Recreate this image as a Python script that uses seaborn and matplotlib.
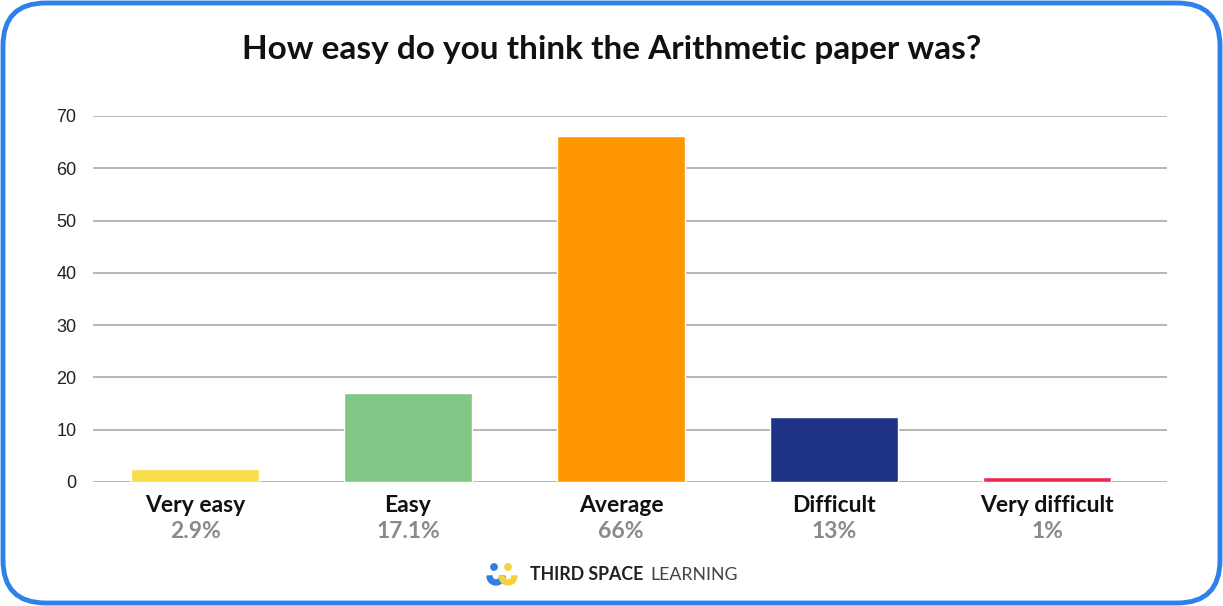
import matplotlib
matplotlib.use("Agg")
import matplotlib.pyplot as plt
import seaborn as sns
import pandas as pd
from matplotlib.patches import FancyBboxPatch, Circle, Wedge

# data
categories = ['Very easy', 'Easy', 'Average', 'Difficult', 'Very difficult']
values = [2.5, 17.0, 66.1, 12.4, 1.0]
pct_labels = ['2.9%', '17.1%', '66%', '13%', '1%']
colors = ['#F9DC4C', '#82C785', '#FF9800', '#1E3288', '#F0294B']
yticks = [0, 10, 20, 30, 40, 50, 60, 70]

df = pd.DataFrame({'cat': categories, 'val': values})

sns.set_style('white')
plt.rcParams['font.family'] = ['Lato', 'DejaVu Sans']

fig = plt.figure(figsize=(12.23, 6.06), dpi=100)
ax = fig.add_axes([93/1223, 1-482/606, 1074/1223, 366/606])

sns.barplot(data=df, x='cat', y='val', hue='cat', palette=colors,
            width=0.6, legend=False, ax=ax, saturation=1)

ax.set_ylim(0, 70)
ax.set_xlim(-0.479, 4.563)
ax.set_yticks(yticks)
ax.set_yticklabels([str(t) for t in yticks], fontsize=13, color='#222222',
                   family='Liberation Sans')
ax.grid(axis='y', color='#AAAAAA', linewidth=1.2)
ax.set_axisbelow(True)
for s in ax.spines.values():
    s.set_visible(False)
ax.tick_params(axis='y', length=0, pad=12)
ax.tick_params(axis='x', length=0)
ax.set_xticklabels([])
ax.set_xlabel('')
ax.set_ylabel('')

# category labels with percentages
for i, (c, p) in enumerate(zip(categories, pct_labels)):
    ax.text(i, -2.4, c, ha='center', va='top', fontsize=16.5, fontweight='bold',
            color='#111111', clip_on=False)
    ax.text(i, -7.4, p, ha='center', va='top', fontsize=16.5, fontweight='bold',
            color='#8A8A8A', clip_on=False)

fig.text(0.5, 1-50/606, 'How easy do you think the Arithmetic paper was?',
         ha='center', va='center', fontsize=24, fontweight='bold', color='#111111')

# rounded border
border = FancyBboxPatch((3/1223, 3/606), 1217/1223, 600/606,
                        boxstyle='round,pad=0,rounding_size=0.035',
                        transform=fig.transFigure, fill=False,
                        edgecolor='#2F80ED', linewidth=3.5,
                        mutation_aspect=1223/606)
fig.patches.append(border)

# logo
lax = fig.add_axes([484/1223, 1-588/606, 40/1223, 28/606])
lax.set_xlim(0, 40)
lax.set_ylim(0, 28)
lax.set_aspect('equal')
lax.axis('off')
lax.add_patch(Circle((10, 21), 3.2, color='#2F7FE0'))
lax.add_patch(Circle((24, 21), 3.2, color='#F5D142'))
lax.add_patch(Wedge((12, 12), 9, 180, 360, width=5, color='#2F7FE0'))
lax.add_patch(Wedge((24, 12), 9, 180, 360, width=5, color='#F5D142'))

fig.text(530/1223, 1-575/606, 'THIRD SPACE', ha='left', va='center',
         fontsize=12.8, fontweight='bold', color='#222222')
fig.text(650/1223, 1-575/606, 'LEARNING', ha='left', va='center',
         fontsize=12.8, color='#444444')

fig.savefig('out.png', dpi=100)
